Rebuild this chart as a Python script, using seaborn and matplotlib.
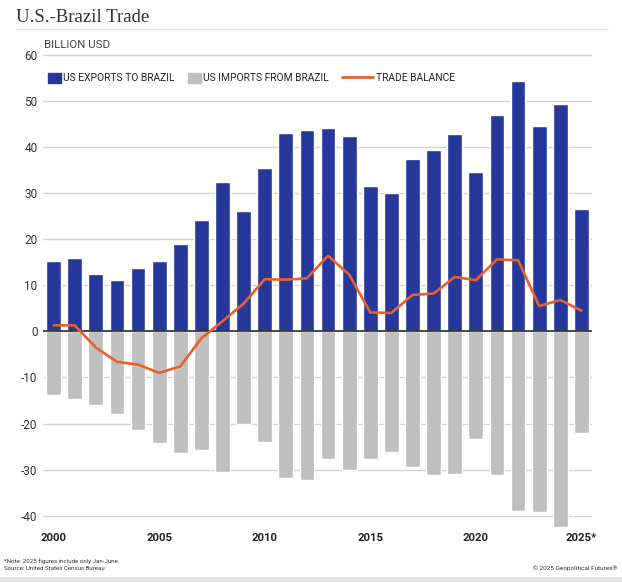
import numpy as np
import pandas as pd
import matplotlib
matplotlib.use("Agg")
import matplotlib.pyplot as plt
import seaborn as sns
from matplotlib.patches import Patch
from matplotlib.lines import Line2D

years = list(range(2000, 2026))
exports = [15.2, 15.9, 12.4, 11.1, 13.8, 15.2, 18.9, 24.1, 32.4, 26.1,
           35.4, 43.0, 43.7, 44.1, 42.4, 31.6, 30.1, 37.4, 39.4, 42.8,
           34.5, 47.0, 54.3, 44.6, 49.2, 26.5]
imports = [-13.9, -14.6, -15.9, -18.0, -21.3, -24.3, -26.3, -25.7, -30.4, -20.0,
           -23.9, -31.7, -32.2, -27.6, -30.0, -27.6, -26.1, -29.3, -31.1, -30.9,
           -23.3, -31.1, -38.9, -39.1, -42.5, -22.0]
balance = [1.3, 1.3, -3.5, -6.6, -7.2, -9.0, -7.6, -1.5, 2.2, 6.0,
           11.3, 11.2, 11.5, 16.4, 12.3, 4.1, 4.0, 7.9, 8.2, 11.8,
           11.1, 15.6, 15.4, 5.5, 6.8, 4.5]
xtick_years = [2000, 2005, 2010, 2015, 2020, 2025]
xtick_labels = ["2000", "2005", "2010", "2015", "2020", "2025*"]
yticks = [-40, -30, -20, -10, 0, 10, 20, 30, 40, 50, 60]

BLUE = "#26399a"
GRAY = "#bfbfbf"
ORANGE = "#e8602c"

sns.set_theme(style="white")
plt.rcParams["font.family"] = ["Roboto", "DejaVu Sans"]

df = pd.DataFrame({"year": [str(y) for y in years], "exports": exports,
                   "imports": imports, "balance": balance})
df["pos"] = np.arange(len(years))

fig = plt.figure(figsize=(6.22, 5.82), dpi=100)
ax = fig.add_axes([43/622, 1-532/582, (592-43)/622, (532-50)/582])

sns.barplot(data=df, x="year", y="exports", color=BLUE, width=0.7,
            saturation=1, ax=ax, zorder=2)
sns.barplot(data=df, x="year", y="imports", color=GRAY, width=0.7,
            saturation=1, ax=ax, zorder=2)
sns.lineplot(data=df, x="pos", y="balance", color=ORANGE, lw=1.9, ax=ax,
             zorder=4)

ax.set_xlim(-0.5, 25.5)
ax.set_ylim(-43.5, 61)
ax.set_yticks(yticks)
ax.set_yticklabels([str(v) for v in yticks], fontsize=8.5, color="#333333")
ax.set_xticks([y - 2000 for y in xtick_years])
ax.set_xticklabels(xtick_labels, fontsize=8.2, fontweight="bold", color="#222222")
ax.tick_params(axis="y", length=0, pad=4)
ax.tick_params(axis="x", length=0, pad=1)
ax.set_xlabel("")
ax.set_ylabel("")
for s in ax.spines.values():
    s.set_visible(False)
for v in yticks:
    if v != 0:
        ax.axhline(v, color="#d4d4d4", lw=1, zorder=1)
ax.axhline(0, color="#2a2a2a", lw=1.2, zorder=3)

ax.text(-0.45, 61.0, "BILLION USD", ha="left", va="bottom",
        fontsize=8.2, color="#444444")

legend_specs = [
    (Patch(color=BLUE, label="US EXPORTS TO BRAZIL"), 48, 1.26, 0.2),
    (Patch(color=GRAY, label="US IMPORTS FROM BRAZIL"), 188, 1.26, 0.2),
    (Line2D([0], [0], color=ORANGE, lw=2, label="TRADE BALANCE"), 342, 3.0, 0.3),
]
for h, xpx, hl, tp in legend_specs:
    fig.legend(handles=[h], loc="center left",
               bbox_to_anchor=(xpx/622, 1-78/582), fontsize=7.4,
               handlelength=hl, handleheight=1.26, handletextpad=tp,
               borderpad=0, borderaxespad=0, frameon=False,
               labelcolor="#222222")

fig.text(16/622, 1-17/582, "U.S.-Brazil Trade", fontsize=13.5,
         family=["Liberation Serif", "DejaVu Serif"], color="#333333",
         ha="left", va="center")
fig.add_artist(Line2D([16/622, 608/622], [1-29/582, 1-29/582],
                      color="#e6e6e6", lw=1))
fig.text(4/622, 1-561/582, "*Note: 2025 figures include only Jan-June",
         fontsize=4.4, color="#333333", ha="left", va="center")
fig.text(4/622, 1-568/582, "Source: United States Census Bureau",
         fontsize=4.4, color="#333333", ha="left", va="center")
fig.text(617/622, 1-568/582, "© 2025 Geopolitical Futures®",
         fontsize=4.6, color="#333333", ha="right", va="center")
fig.add_artist(plt.Rectangle((0, 0), 1, 5/582, transform=fig.transFigure,
                             color="#e2e2e2", lw=0))

fig.savefig("out.png", dpi=100)
